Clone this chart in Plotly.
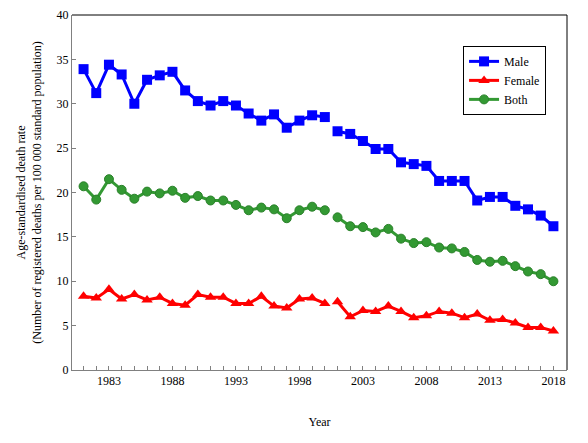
import plotly.graph_objects as go

years = list(range(1981, 2019))

male = [33.9, 31.2, 34.4, 33.3, 30.0, 32.7, 33.2, 33.6, 31.5, 30.3,
        29.8, 30.3, 29.8, 28.9, 28.1, 28.8, 27.3, 28.1, 28.7, 28.5,
        26.9, 26.6, 25.8, 24.9, 24.9, 23.4, 23.2, 23.0, 21.3, 21.3,
        21.3, 19.1, 19.5, 19.5, 18.5, 18.1, 17.4, 16.2]
female = [8.3, 8.1, 9.1, 8.0, 8.5, 7.9, 8.2, 7.5, 7.3, 8.5,
          8.2, 8.2, 7.5, 7.5, 8.3, 7.2, 7.0, 8.0, 8.1, 7.5,
          7.7, 6.0, 6.7, 6.6, 7.2, 6.6, 5.9, 6.1, 6.6, 6.4,
          5.9, 6.3, 5.6, 5.7, 5.3, 4.8, 4.8, 4.4]
both = [20.7, 19.2, 21.5, 20.3, 19.3, 20.1, 19.9, 20.2, 19.4, 19.6,
        19.1, 19.1, 18.6, 18.0, 18.3, 18.1, 17.1, 18.0, 18.4, 18.0,
        17.2, 16.2, 16.1, 15.5, 15.9, 14.8, 14.3, 14.4, 13.8, 13.7,
        13.3, 12.4, 12.2, 12.3, 11.7, 11.1, 10.8, 10.0]

label_years = [1983, 1988, 1993, 1998, 2003, 2008, 2013, 2018]

# series break between 2000 and 2001
BREAK = years.index(2001)


def split(vals):
    return vals[:BREAK] + [None] + vals[BREAK:]


x = split(years)
serif = "Liberation Serif"

fig = go.Figure()
fig.add_trace(go.Scatter(
    x=x, y=split(male), name="Male", mode="lines+markers",
    line=dict(color="#0000FF", width=3),
    marker=dict(symbol="square", size=10, color="#0000FF")))
fig.add_trace(go.Scatter(
    x=x, y=split(female), name="Female", mode="lines+markers",
    line=dict(color="#FF0000", width=3),
    marker=dict(symbol="triangle-up", size=10, color="#FF0000")))
fig.add_trace(go.Scatter(
    x=x, y=split(both), name="Both", mode="lines+markers",
    line=dict(color="#339933", width=3),
    marker=dict(symbol="circle", size=9, color="#339933",
                line=dict(color="#2a812a", width=1))))

# page body adds 8px, so the figure is 8px smaller and margins shifted
fig.update_layout(
    width=580, height=435,
    margin=dict(l=64, r=21, t=7, b=73),
    plot_bgcolor="white", paper_bgcolor="white",
    font=dict(family=serif, size=12, color="black"),
    legend=dict(x=0.79, y=0.913, xanchor="left", yanchor="top",
                bgcolor="white", bordercolor="black", borderwidth=1,
                font=dict(family=serif, size=12), tracegroupgap=0, itemwidth=30),
    showlegend=True,
)

fig.update_xaxes(
    range=[1980.09, 2019.07], automargin=False,
    tickvals=label_years, ticks="inside", ticklen=4, tickcolor="#808080",
    tickfont=dict(family=serif, size=12),
    minor=dict(ticks="inside", dtick=1, tick0=1981, ticklen=4, tickcolor="#808080"),
    showline=True, linecolor="#808080", linewidth=1,
    showgrid=False, zeroline=False,
    title=dict(text="Year", standoff=30, font=dict(family=serif, size=12)),
)
fig.update_yaxes(
    range=[0, 40], dtick=5, automargin=False,
    ticks="inside", ticklen=4, tickcolor="#808080",
    tickfont=dict(family=serif, size=12),
    showline=True, linecolor="#808080", linewidth=1,
    showgrid=False, zeroline=False,
    title=dict(text="Age-standardised death rate<br>(Number of registered deaths per 100 000 standard population)",
               standoff=12, font=dict(family=serif, size=12)),
)

# black top and right edges of the plot frame
fig.add_shape(type="line", xref="paper", yref="paper", x0=0, x1=1, y0=1, y1=1,
              line=dict(color="black", width=1))
fig.add_shape(type="line", xref="paper", yref="paper", x0=1, x1=1, y0=0, y1=1,
              line=dict(color="black", width=1))

fig.write_html("out.html")
